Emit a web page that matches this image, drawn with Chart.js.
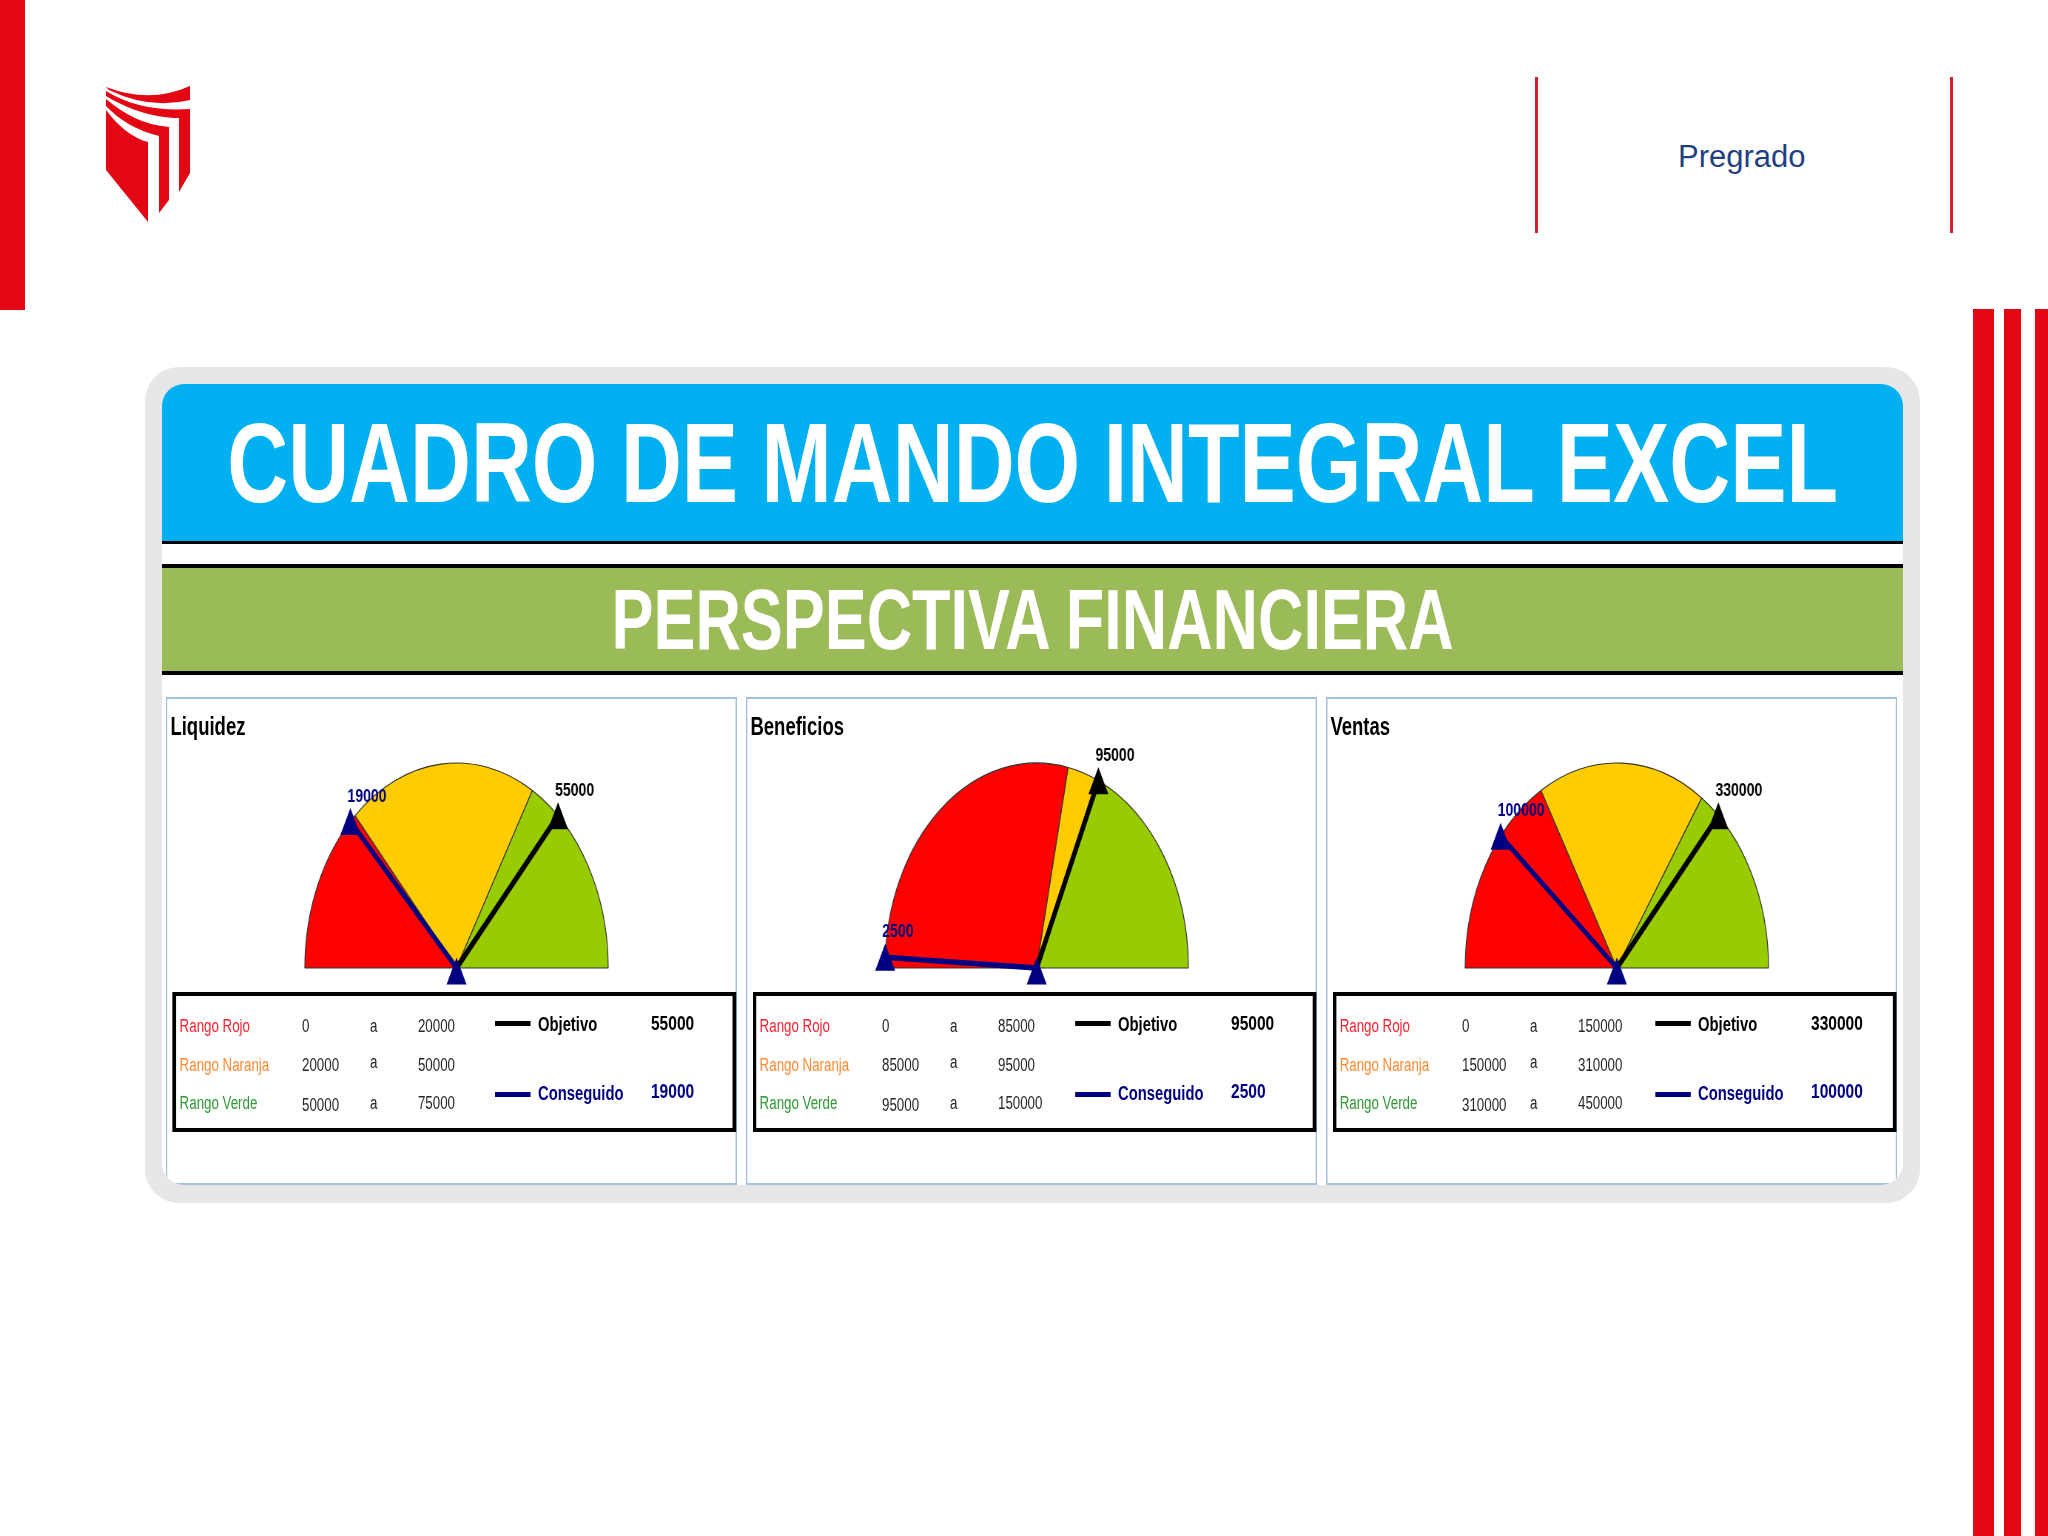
<!DOCTYPE html>
<html>
<head>
<meta charset="utf-8">
<title>Cuadro de Mando Integral</title>
<script src="https://cdn.jsdelivr.net/npm/chart.js@4.4.1/dist/chart.umd.min.js"></script>
<style>
    body { margin: 0; width: 2048px; height: 1536px; position: relative; overflow: hidden; background: #fff; font-family: "Liberation Sans", Arial, sans-serif; }
    .abs { position: absolute; }
    .rojo { background: #e30613; }
    #pregrado { left: 1678px; top: 141px; font-size: 31px; line-height: 1; color: #1f3f80; }
    #marco { left: 145px; top: 367px; width: 1775px; height: 836px; background: #e7e7e7; border-radius: 34px; }
    #hoja { left: 162px; top: 384px; width: 1741px; height: 801px; background: #fff; border-radius: 22px; overflow: hidden; }
    #encogido { left: 0; top: 0; width: 2353px; height: 801px; transform: scaleX(0.74); transform-origin: 0 0; }
    .banda { left: 0; width: 100%; color: #fff; font-weight: bold; display: flex; align-items: center; justify-content: center; line-height: 1; }
    #titulo { top: 0; height: 157px; background: #00b0f0; font-size: 114px; }
    #subtitulo { top: 184px; height: 103px; background: #9bbb59; font-size: 85px; }
    .linea { left: 0; width: 100%; background: #000; }
    .panel { position: absolute; top: 313px; width: 772px; height: 488px; box-shadow: inset 0 0 0 2px #a7bfdf; }
    .panel div { position: absolute; line-height: 1; white-space: nowrap; }
    .panel canvas { position: absolute; left: 93px; top: 6px; }
    .nombre { left: 6px; top: 17px; font-size: 25px; font-weight: bold; color: #000; }
    .caja { left: 9px; top: 295px; width: 762px; height: 140px; box-sizing: border-box; border-style: solid; border-color: #000; border-width: 4px 5px; }
    .chico { font-size: 18px; color: #262626; }
    .negrita { font-weight: bold; }
</style>
</head>
<body>

<div class="abs rojo" style="left:0;top:0;width:25px;height:310px"></div>
<svg class="abs" style="left:100px;top:80px" width="100" height="150" viewBox="100 80 100 150">
    <path fill="#e30613" d="M106,87 Q150,104 190,86 L190,100 Q150,110 109,90 Z"/>
    <path fill="#e30613" d="M106,91 C130,106 158,111 190,109 L190,173 L179,192 L179,118 C152,118 126,108 106,96 Z"/>
    <path fill="#e30613" d="M106,99 C124,114 144,125 169,127 L169,200 L159,213 L159,136 C138,131 119,120 106,106 Z"/>
    <path fill="#e30613" d="M106,110 C118,126 132,138 148,142 L148,222 L106,170 Z"/>
</svg>

<div id="pregrado" class="abs">Pregrado</div>
<div class="abs" style="left:1535px;top:77px;width:3px;height:156px;background:#d3202e"></div>
<div class="abs" style="left:1950px;top:77px;width:3px;height:156px;background:#d3202e"></div>

<div class="abs rojo" style="left:1973px;top:309px;width:21px;height:1227px"></div>
<div class="abs rojo" style="left:2004px;top:309px;width:17px;height:1227px"></div>
<div class="abs rojo" style="left:2035px;top:309px;width:13px;height:1227px"></div>

<div id="marco" class="abs"></div>
<div id="hoja" class="abs">
    <div id="encogido" class="abs">
        <div id="titulo" class="abs banda">CUADRO DE MANDO INTEGRAL EXCEL</div>
        <div class="abs linea" style="top:157px;height:3px"></div>
        <div class="abs linea" style="top:180px;height:4px"></div>
        <div id="subtitulo" class="abs banda">PERSPECTIVA FINANCIERA</div>
        <div class="abs linea" style="top:287px;height:4px"></div>
        <div id="paneles"></div>
    </div>
</div>

<script>
var indicadores = ['Liquidez', 'Beneficios', 'Ventas'];
var nombresRangos = ['Rango Rojo', 'Rango Naranja', 'Rango Verde'];
var coloresRangos = ['#ff0000', '#ffcc00', '#99cc00'];
var coloresTexto = ['#ff1f2f', '#ff8a33', '#2f9a35'];
var inicioRojo = [0, 0, 0];
var finRojo = [20000, 85000, 150000];
var finNaranja = [50000, 95000, 310000];
var finVerde = [75000, 150000, 450000];
var objetivos = [55000, 95000, 330000];
var conseguidos = [19000, 2500, 100000];

var colorObjetivo = '#000000';
var colorConseguido = '#000080';

// agujas del velocimetro, sacadas de los arcos que dibuja el pie
var agujas = {
    id: 'agujas',
    afterDatasetsDraw: function (chart, args, opts) {
        var arcos = chart.getDatasetMeta(0).data;
        var cx = arcos[0].x;
        var cy = arcos[0].y;
        var radio = arcos[0].outerRadius;
        var ini = arcos[0].startAngle;
        var fin = arcos[arcos.length - 1].endAngle;
        var ctx = chart.ctx;

        function punta(valor) {
            var ang = ini + (fin - ini) * valor / opts.total;
            return { x: cx + radio * Math.cos(ang), y: cy + radio * Math.sin(ang) };
        }

        function triangulo(x, y, color) {
            ctx.beginPath();
            ctx.moveTo(x, y - 13.5);
            ctx.lineTo(x + 13.5, y + 13.5);
            ctx.lineTo(x - 13.5, y + 13.5);
            ctx.closePath();
            ctx.fillStyle = color;
            ctx.fill();
        }

        function aguja(p, color, ancho) {
            ctx.beginPath();
            ctx.moveTo(cx, cy);
            ctx.lineTo(p.x, p.y);
            ctx.strokeStyle = color;
            ctx.lineWidth = ancho;
            ctx.stroke();
        }

        var obj = punta(opts.objetivo);
        var con = punta(opts.conseguido);

        ctx.save();
        aguja(obj, colorObjetivo, 6);
        aguja(con, colorConseguido, 5.5);
        triangulo(obj.x, obj.y, colorObjetivo);
        triangulo(con.x, con.y, colorConseguido);
        triangulo(cx, cy + 3, colorConseguido);

        ctx.font = 'bold 19px "Liberation Sans", Arial, sans-serif';
        ctx.textAlign = 'left';
        ctx.textBaseline = 'alphabetic';
        ctx.fillStyle = colorObjetivo;
        ctx.fillText(String(opts.objetivo), obj.x - 4, obj.y - 20);
        ctx.fillStyle = colorConseguido;
        ctx.fillText(String(opts.conseguido), con.x - 4, con.y - 20);
        ctx.restore();
    }
};

function texto(panel, contenido, left, top, clase, color) {
    var d = document.createElement('div');
    d.className = clase;
    d.style.left = left + 'px';
    d.style.top = top + 'px';
    if (color) {
        d.style.color = color;
    }
    d.textContent = contenido;
    panel.appendChild(d);
}

var contenedor = document.getElementById('paneles');
var izquierdas = [5.4, 789.2, 1573];

for (var i = 0; i < indicadores.length; i++) {
    var panel = document.createElement('div');
    panel.className = 'panel';
    panel.style.left = izquierdas[i] + 'px';
    contenedor.appendChild(panel);

    texto(panel, indicadores[i], 6, 17, 'nombre');

    var desde = [inicioRojo[i], finRojo[i], finNaranja[i]];
    var hasta = [finRojo[i], finNaranja[i], finVerde[i]];
    var tramos = [];
    for (var k = 0; k < desde.length; k++) {
        tramos.push(hasta[k] - desde[k]);
    }

    var canvas = document.createElement('canvas');
    canvas.width = 600;
    canvas.height = 300;
    panel.appendChild(canvas);

    new Chart(canvas, {
        type: 'pie',
        data: {
            labels: nombresRangos,
            datasets: [{
                data: tramos,
                backgroundColor: coloresRangos,
                borderColor: '#333333',
                borderWidth: 1.2
            }]
        },
        options: {
            responsive: false,
            animation: false,
            events: [],
            rotation: -90,
            circumference: 180,
            radius: 205,
            layout: { padding: { left: 95, right: 95, top: 60, bottom: 35 } },
            plugins: {
                legend: { display: false },
                tooltip: { enabled: false },
                agujas: { total: finVerde[i], objetivo: objetivos[i], conseguido: conseguidos[i] }
            }
        },
        plugins: [agujas]
    });

    // cuadro con los rangos
    var caja = document.createElement('div');
    caja.className = 'caja';
    panel.appendChild(caja);

    var filas = [320, 359, 397];
    for (var k = 0; k < nombresRangos.length; k++) {
        texto(panel, nombresRangos[k], 18.4, filas[k], 'chico', coloresTexto[k]);
        texto(panel, String(desde[k]), 183.8, filas[k] + (k == 2 ? 2 : 0), 'chico');
        texto(panel, 'a', 275.7, filas[k] - (k == 1 ? 3 : 0), 'chico');
        texto(panel, String(hasta[k]), 340.5, filas[k], 'chico');
    }

    var rayaObj = document.createElement('div');
    rayaObj.style.cssText = 'left:444.6px;top:323.5px;width:48px;height:5px;background:' + colorObjetivo;
    panel.appendChild(rayaObj);
    var rayaCon = document.createElement('div');
    rayaCon.style.cssText = 'left:444.6px;top:394.5px;width:48px;height:5px;background:' + colorConseguido;
    panel.appendChild(rayaCon);

    texto(panel, 'Objetivo', 502.7, 317, 'negrita', colorObjetivo);
    texto(panel, 'Conseguido', 502.7, 386, 'negrita', colorConseguido);
    texto(panel, String(objetivos[i]), 655.4, 315, 'negrita', colorObjetivo);
    texto(panel, String(conseguidos[i]), 655.4, 383, 'negrita', colorConseguido);
}

// tamaños de la letra en negrita del cuadro
var negritas = document.querySelectorAll('.panel .negrita');
for (var n = 0; n < negritas.length; n++) {
    var t = negritas[n].textContent;
    negritas[n].style.fontSize = (/^\d+$/.test(t) ? 21 : 20) + 'px';
}
</script>
</body>
</html>
